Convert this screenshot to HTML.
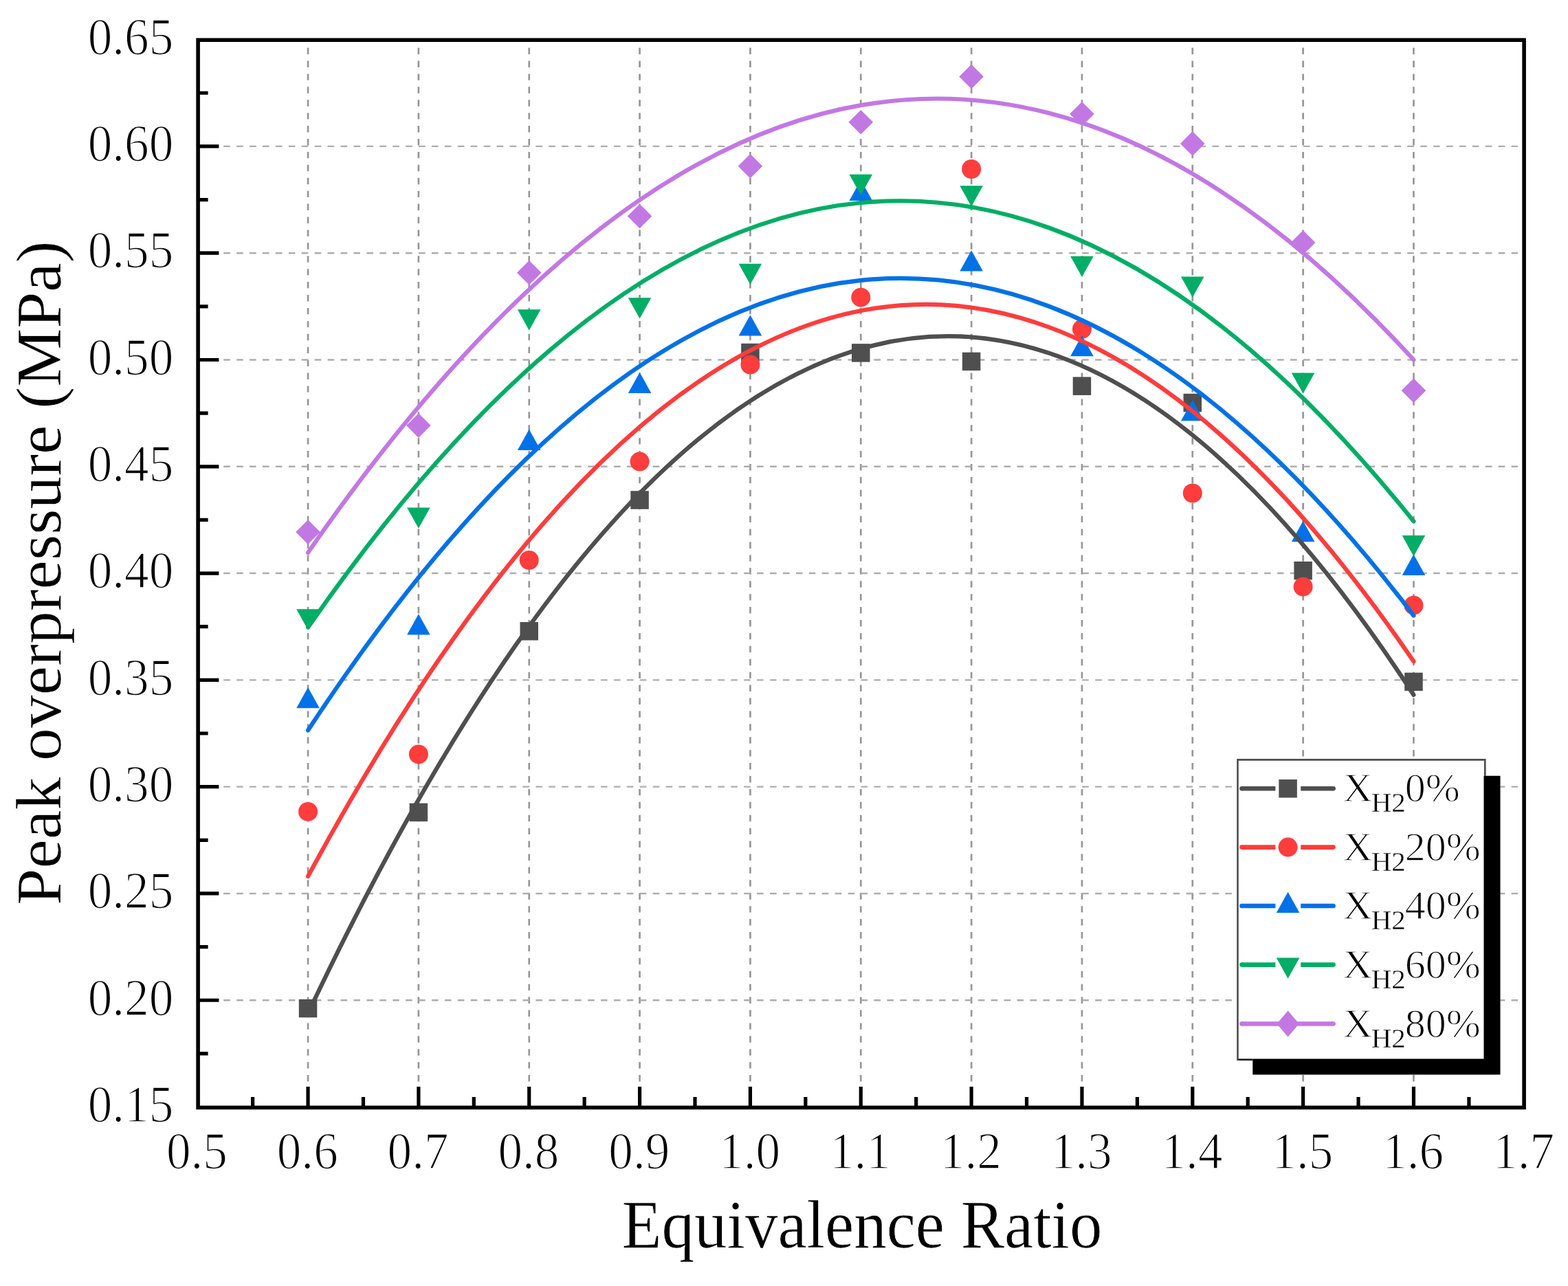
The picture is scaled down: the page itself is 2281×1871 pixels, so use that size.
<!DOCTYPE html><html><head><meta charset="utf-8"><title>Peak overpressure vs Equivalence Ratio</title><style>html,body{margin:0;padding:0;background:#fff;overflow:hidden;}svg{display:block;}text{font-family:"Liberation Serif","Times New Roman",serif;fill:#000;}.tl{stroke:#fff;stroke-width:1.6px;}.lg{stroke:#fff;stroke-width:1.3px;}.tt{stroke:#fff;stroke-width:0.6px;}</style></head><body>
<svg width="2281" height="1871" viewBox="0 0 2281 1871">
<rect x="0" y="0" width="2281" height="1871" fill="#fff"/>
<path d="M448.04,69.6 V1574.5 M608.89,69.6 V1574.5 M769.73,69.6 V1574.5 M930.58,69.6 V1574.5 M1091.42,69.6 V1574.5 M1252.26,69.6 V1574.5 M1413.11,69.6 V1574.5 M1573.95,69.6 V1574.5 M1734.80,69.6 V1574.5 M1895.64,69.6 V1574.5 M2056.48,69.6 V1574.5" stroke="#979797" stroke-width="2.7" fill="none" stroke-dasharray="9.4 9.518"/>
<path d="M287.35,1455.25 H2208 M287.35,1299.95 H2208 M287.35,1144.66 H2208 M287.35,989.36 H2208 M287.35,834.07 H2208 M287.35,678.78 H2208 M287.35,523.48 H2208 M287.35,368.19 H2208 M287.35,212.89 H2208" stroke="#adadad" stroke-width="2.4" fill="none" stroke-dasharray="9.6 9.324"/>
<rect x="434.79" y="1453.85" width="26.50" height="26.50" fill="#4f4f4f"/>
<rect x="595.64" y="1168.65" width="26.50" height="26.50" fill="#4f4f4f"/>
<rect x="756.48" y="905.05" width="26.50" height="26.50" fill="#4f4f4f"/>
<rect x="917.33" y="714.25" width="26.50" height="26.50" fill="#4f4f4f"/>
<rect x="1078.17" y="499.75" width="26.50" height="26.50" fill="#4f4f4f"/>
<rect x="1239.01" y="500.15" width="26.50" height="26.50" fill="#4f4f4f"/>
<rect x="1399.86" y="512.65" width="26.50" height="26.50" fill="#4f4f4f"/>
<rect x="1560.70" y="548.45" width="26.50" height="26.50" fill="#4f4f4f"/>
<rect x="1721.55" y="572.75" width="26.50" height="26.50" fill="#4f4f4f"/>
<rect x="1882.39" y="816.95" width="26.50" height="26.50" fill="#4f4f4f"/>
<rect x="2043.23" y="978.65" width="26.50" height="26.50" fill="#4f4f4f"/>
<circle cx="448.04" cy="1180.90" r="14.00" fill="#ff3d3d"/>
<circle cx="608.89" cy="1097.40" r="14.00" fill="#ff3d3d"/>
<circle cx="769.73" cy="815.00" r="14.00" fill="#ff3d3d"/>
<circle cx="930.58" cy="671.60" r="14.00" fill="#ff3d3d"/>
<circle cx="1091.42" cy="530.60" r="14.00" fill="#ff3d3d"/>
<circle cx="1252.26" cy="432.70" r="14.00" fill="#ff3d3d"/>
<circle cx="1413.11" cy="246.00" r="14.00" fill="#ff3d3d"/>
<circle cx="1573.95" cy="478.80" r="14.00" fill="#ff3d3d"/>
<circle cx="1734.80" cy="717.50" r="14.00" fill="#ff3d3d"/>
<circle cx="1895.64" cy="853.70" r="14.00" fill="#ff3d3d"/>
<circle cx="2056.48" cy="880.70" r="14.00" fill="#ff3d3d"/>
<polygon points="448.04,999.90 464.84,1030.20 431.24,1030.20" fill="#0071e6"/>
<polygon points="608.89,893.13 625.69,923.43 592.09,923.43" fill="#0071e6"/>
<polygon points="769.73,624.67 786.53,654.97 752.93,654.97" fill="#0071e6"/>
<polygon points="930.58,541.63 947.38,571.93 913.78,571.93" fill="#0071e6"/>
<polygon points="1091.42,458.13 1108.22,488.43 1074.62,488.43" fill="#0071e6"/>
<polygon points="1252.26,261.73 1269.06,292.03 1235.46,292.03" fill="#0071e6"/>
<polygon points="1413.11,364.20 1429.91,394.50 1396.31,394.50" fill="#0071e6"/>
<polygon points="1573.95,487.90 1590.75,518.20 1557.15,518.20" fill="#0071e6"/>
<polygon points="1734.80,582.03 1751.60,612.33 1718.00,612.33" fill="#0071e6"/>
<polygon points="1895.64,757.87 1912.44,788.17 1878.84,788.17" fill="#0071e6"/>
<polygon points="2056.48,806.60 2073.28,836.90 2039.68,836.90" fill="#0071e6"/>
<polygon points="431.24,886.30 464.84,886.30 448.04,916.60" fill="#00ad66"/>
<polygon points="592.09,738.40 625.69,738.40 608.89,768.70" fill="#00ad66"/>
<polygon points="752.93,450.33 786.53,450.33 769.73,480.63" fill="#00ad66"/>
<polygon points="913.78,433.17 947.38,433.17 930.58,463.47" fill="#00ad66"/>
<polygon points="1074.62,383.70 1108.22,383.70 1091.42,414.00" fill="#00ad66"/>
<polygon points="1235.46,253.67 1269.06,253.67 1252.26,283.97" fill="#00ad66"/>
<polygon points="1396.31,270.30 1429.91,270.30 1413.11,300.60" fill="#00ad66"/>
<polygon points="1557.15,372.77 1590.75,372.77 1573.95,403.07" fill="#00ad66"/>
<polygon points="1718.00,402.40 1751.60,402.40 1734.80,432.70" fill="#00ad66"/>
<polygon points="1878.84,542.50 1912.44,542.50 1895.64,572.80" fill="#00ad66"/>
<polygon points="2039.68,779.10 2073.28,779.10 2056.48,809.40" fill="#00ad66"/>
<polygon points="448.04,756.30 465.84,774.10 448.04,791.90 430.24,774.10" fill="#c278e3"/>
<polygon points="608.89,601.30 626.69,619.10 608.89,636.90 591.09,619.10" fill="#c278e3"/>
<polygon points="769.73,379.00 787.53,396.80 769.73,414.60 751.93,396.80" fill="#c278e3"/>
<polygon points="930.58,296.70 948.38,314.50 930.58,332.30 912.78,314.50" fill="#c278e3"/>
<polygon points="1091.42,223.90 1109.22,241.70 1091.42,259.50 1073.62,241.70" fill="#c278e3"/>
<polygon points="1252.26,160.00 1270.06,177.80 1252.26,195.60 1234.46,177.80" fill="#c278e3"/>
<polygon points="1413.11,93.70 1430.91,111.50 1413.11,129.30 1395.31,111.50" fill="#c278e3"/>
<polygon points="1573.95,147.90 1591.75,165.70 1573.95,183.50 1556.15,165.70" fill="#c278e3"/>
<polygon points="1734.80,191.10 1752.60,208.90 1734.80,226.70 1717.00,208.90" fill="#c278e3"/>
<polygon points="1895.64,335.10 1913.44,352.90 1895.64,370.70 1877.84,352.90" fill="#c278e3"/>
<polygon points="2056.48,550.50 2074.28,568.30 2056.48,586.10 2038.68,568.30" fill="#c278e3"/>
<path d="M448.04,1474.44 Q1252.26,-227.82 2056.48,1010.94" stroke="#4f4f4f" stroke-width="6.2" fill="none" stroke-linecap="round"/>
<path d="M448.04,1274.91 Q1252.26,-214.68 2056.48,962.32" stroke="#ff3d3d" stroke-width="6.2" fill="none" stroke-linecap="round"/>
<path d="M448.04,1062.54 Q1252.26,-163.22 2056.48,895.55" stroke="#0071e6" stroke-width="6.2" fill="none" stroke-linecap="round"/>
<path d="M448.04,912.81 Q1252.26,-245.67 2056.48,758.48" stroke="#00ad66" stroke-width="6.2" fill="none" stroke-linecap="round"/>
<path d="M448.04,804.00 Q1252.26,-357.47 2056.48,523.52" stroke="#c278e3" stroke-width="6.2" fill="none" stroke-linecap="round"/>
<rect x="288.10" y="58.20" width="1929.00" height="1553.20" fill="none" stroke="#000" stroke-width="5.60"/>
<path d="M448.04,1611.40 V1580.90 M608.89,1611.40 V1580.90 M769.73,1611.40 V1580.90 M930.58,1611.40 V1580.90 M1091.42,1611.40 V1580.90 M1252.26,1611.40 V1580.90 M1413.11,1611.40 V1580.90 M1573.95,1611.40 V1580.90 M1734.80,1611.40 V1580.90 M1895.64,1611.40 V1580.90 M2056.48,1611.40 V1580.90 M367.62,1611.40 V1595.90 M528.47,1611.40 V1595.90 M689.31,1611.40 V1595.90 M850.15,1611.40 V1595.90 M1011.00,1611.40 V1595.90 M1171.84,1611.40 V1595.90 M1332.69,1611.40 V1595.90 M1493.53,1611.40 V1595.90 M1654.37,1611.40 V1595.90 M1815.22,1611.40 V1595.90 M1976.06,1611.40 V1595.90 M2136.91,1611.40 V1595.90 M288.10,1455.25 H318.40 M288.10,1299.95 H318.40 M288.10,1144.66 H318.40 M288.10,989.36 H318.40 M288.10,834.07 H318.40 M288.10,678.78 H318.40 M288.10,523.48 H318.40 M288.10,368.19 H318.40 M288.10,212.89 H318.40 M288.10,1532.89 H302.60 M288.10,1377.60 H302.60 M288.10,1222.30 H302.60 M288.10,1067.01 H302.60 M288.10,911.72 H302.60 M288.10,756.42 H302.60 M288.10,601.13 H302.60 M288.10,445.84 H302.60 M288.10,290.54 H302.60 M288.10,135.25 H302.60" stroke="#000" stroke-width="5.2" fill="none"/>
<text transform="translate(286.40,1699.60) scale(0.925,1)" class="tl" text-anchor="middle" font-size="77">0.5</text>
<text transform="translate(447.24,1699.60) scale(0.925,1)" class="tl" text-anchor="middle" font-size="77">0.6</text>
<text transform="translate(608.09,1699.60) scale(0.925,1)" class="tl" text-anchor="middle" font-size="77">0.7</text>
<text transform="translate(768.93,1699.60) scale(0.925,1)" class="tl" text-anchor="middle" font-size="77">0.8</text>
<text transform="translate(929.78,1699.60) scale(0.925,1)" class="tl" text-anchor="middle" font-size="77">0.9</text>
<text transform="translate(1090.62,1699.60) scale(0.925,1)" class="tl" text-anchor="middle" font-size="77">1.0</text>
<text transform="translate(1251.46,1699.60) scale(0.925,1)" class="tl" text-anchor="middle" font-size="77">1.1</text>
<text transform="translate(1412.31,1699.60) scale(0.925,1)" class="tl" text-anchor="middle" font-size="77">1.2</text>
<text transform="translate(1573.15,1699.60) scale(0.925,1)" class="tl" text-anchor="middle" font-size="77">1.3</text>
<text transform="translate(1734.00,1699.60) scale(0.925,1)" class="tl" text-anchor="middle" font-size="77">1.4</text>
<text transform="translate(1894.84,1699.60) scale(0.925,1)" class="tl" text-anchor="middle" font-size="77">1.5</text>
<text transform="translate(2055.68,1699.60) scale(0.925,1)" class="tl" text-anchor="middle" font-size="77">1.6</text>
<text transform="translate(2216.53,1699.60) scale(0.925,1)" class="tl" text-anchor="middle" font-size="77">1.7</text>
<text transform="translate(252.30,1631.84) scale(0.925,1)" class="tl" text-anchor="end" font-size="77">0.15</text>
<text transform="translate(252.30,1476.55) scale(0.925,1)" class="tl" text-anchor="end" font-size="77">0.20</text>
<text transform="translate(252.30,1321.25) scale(0.925,1)" class="tl" text-anchor="end" font-size="77">0.25</text>
<text transform="translate(252.30,1165.96) scale(0.925,1)" class="tl" text-anchor="end" font-size="77">0.30</text>
<text transform="translate(252.30,1010.66) scale(0.925,1)" class="tl" text-anchor="end" font-size="77">0.35</text>
<text transform="translate(252.30,855.37) scale(0.925,1)" class="tl" text-anchor="end" font-size="77">0.40</text>
<text transform="translate(252.30,700.08) scale(0.925,1)" class="tl" text-anchor="end" font-size="77">0.45</text>
<text transform="translate(252.30,544.78) scale(0.925,1)" class="tl" text-anchor="end" font-size="77">0.50</text>
<text transform="translate(252.30,389.49) scale(0.925,1)" class="tl" text-anchor="end" font-size="77">0.55</text>
<text transform="translate(252.30,234.19) scale(0.925,1)" class="tl" text-anchor="end" font-size="77">0.60</text>
<text transform="translate(252.30,78.90) scale(0.925,1)" class="tl" text-anchor="end" font-size="77">0.65</text>
<text transform="translate(1254.00,1815.40) scale(1,1.04)" class="tt" text-anchor="middle" font-size="95">Equivalence Ratio</text>
<text transform="translate(87.60,833.50) rotate(-90) scale(1,0.972)" class="tt" text-anchor="middle" font-size="95.6">Peak overpressure (MPa)</text>
<rect x="1800.5" y="1105.4" width="358.4" height="436.4" fill="#fff"/>
<path d="M1799.2,1104 H2161.6 V1128.7 H2158.9 V1106.7 H1801.8 V1540.6 H1822.3 V1542.9 H1799.2 Z" fill="#4d4d4d"/>
<path d="M1801.8,1540.6 H1822.3 V1542.9 H1801.8 Z" fill="#1f1f1f"/>
<path d="M2158.5,1128.7 H2182.5 V1563.5 H1822.3 V1540.6 H2158.5 Z" fill="#000"/>
<path d="M1806.5,1147.30 H1855.4 M1892.2,1147.30 H1939.6" stroke="#4f4f4f" stroke-width="6.6" fill="none"/>
<circle cx="1806.5" cy="1147.30" r="3.3" fill="#4f4f4f"/><circle cx="1939.6" cy="1147.30" r="3.3" fill="#4f4f4f"/>
<rect x="1860.35" y="1134.05" width="26.50" height="26.50" fill="#4f4f4f"/>
<text class="lg" x="1953.5" y="1166.30" font-size="60">X<tspan font-size="41" dx="-2.1" dy="15" style="stroke-width:0.4px">H2</tspan><tspan dx="-1.1" dy="-15">0%</tspan></text>
<path d="M1806.5,1232.60 H1855.4 M1892.2,1232.60 H1939.6" stroke="#ff3d3d" stroke-width="6.6" fill="none"/>
<circle cx="1806.5" cy="1232.60" r="3.3" fill="#ff3d3d"/><circle cx="1939.6" cy="1232.60" r="3.3" fill="#ff3d3d"/>
<circle cx="1873.60" cy="1232.60" r="14.00" fill="#ff3d3d"/>
<text class="lg" x="1953.5" y="1251.60" font-size="60">X<tspan font-size="41" dx="-2.1" dy="15" style="stroke-width:0.4px">H2</tspan><tspan dx="-1.1" dy="-15">20%</tspan></text>
<path d="M1806.5,1318.00 H1855.4 M1892.2,1318.00 H1939.6" stroke="#0071e6" stroke-width="6.6" fill="none"/>
<circle cx="1806.5" cy="1318.00" r="3.3" fill="#0071e6"/><circle cx="1939.6" cy="1318.00" r="3.3" fill="#0071e6"/>
<polygon points="1873.60,1297.80 1890.40,1328.10 1856.80,1328.10" fill="#0071e6"/>
<text class="lg" x="1953.5" y="1337.00" font-size="60">X<tspan font-size="41" dx="-2.1" dy="15" style="stroke-width:0.4px">H2</tspan><tspan dx="-1.1" dy="-15">40%</tspan></text>
<path d="M1806.5,1403.60 H1855.4 M1892.2,1403.60 H1939.6" stroke="#00ad66" stroke-width="6.6" fill="none"/>
<circle cx="1806.5" cy="1403.60" r="3.3" fill="#00ad66"/><circle cx="1939.6" cy="1403.60" r="3.3" fill="#00ad66"/>
<polygon points="1856.80,1393.50 1890.40,1393.50 1873.60,1423.80" fill="#00ad66"/>
<text class="lg" x="1953.5" y="1422.60" font-size="60">X<tspan font-size="41" dx="-2.1" dy="15" style="stroke-width:0.4px">H2</tspan><tspan dx="-1.1" dy="-15">60%</tspan></text>
<path d="M1806.5,1489.50 H1855.4 M1892.2,1489.50 H1939.6" stroke="#c278e3" stroke-width="6.6" fill="none"/>
<circle cx="1806.5" cy="1489.50" r="3.3" fill="#c278e3"/><circle cx="1939.6" cy="1489.50" r="3.3" fill="#c278e3"/>
<polygon points="1873.60,1470.50 1889.85,1489.50 1873.60,1508.50 1857.35,1489.50" fill="#c278e3"/>
<path d="M1853.5,1489.50 H1892.5" stroke="#c278e3" stroke-width="6.6" fill="none"/>
<text class="lg" x="1953.5" y="1508.50" font-size="60">X<tspan font-size="41" dx="-2.1" dy="15" style="stroke-width:0.4px">H2</tspan><tspan dx="-1.1" dy="-15">80%</tspan></text>
</svg></body></html>
